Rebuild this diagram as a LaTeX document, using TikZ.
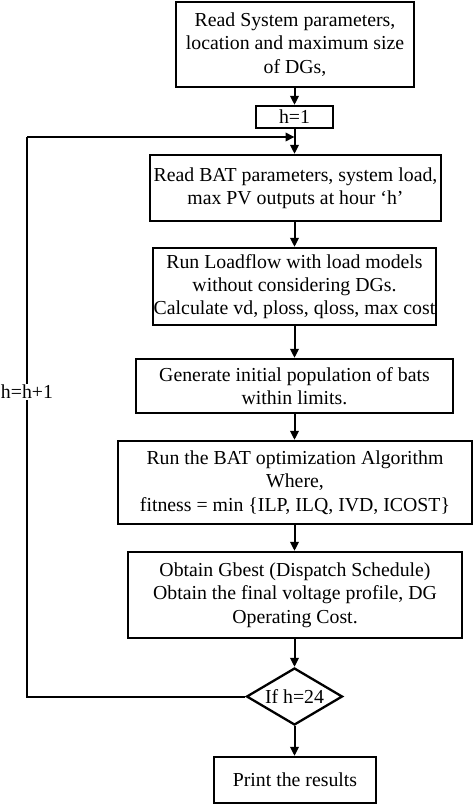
\documentclass[tikz,border=0pt]{standalone}
\usepackage{fontspec}
\setmainfont{Liberation Serif}
\usetikzlibrary{shapes.geometric,arrows.meta}
\begin{document}
\begin{tikzpicture}[x=1pt,y=-1pt,
  box/.style={draw,line width=2.3pt,inner sep=0pt,align=center,font=\fontsize{19.8}{23.3}\selectfont},
  dec/.style={draw,diamond,line width=2.3pt,inner sep=0pt,font=\fontsize{19.8}{23.3}\selectfont},
  flow/.style={line width=2pt,-{Triangle[length=9pt,width=8.5pt]}},
  loopline/.style={line width=2pt}]
\useasboundingbox (0,0) rectangle (474,806);
\node[box,minimum width=238pt,minimum height=85pt] (b1) at (295,44.5) {Read System parameters,\\location and maximum size\\of DGs,};
\node[box,minimum width=77pt,minimum height=22pt] (h1) at (294.5,117) {h=1};
\node[box,minimum width=291pt,minimum height=66pt] (b2) at (295.5,188) {Read BAT parameters, system load,\\max PV outputs at hour ‘h’};
\node[box,minimum width=283pt,minimum height=77pt] (b3) at (294.5,286.5) {Run Loadflow with load models\\without considering DGs.\\Calculate vd, ploss, qloss, max cost};
\node[box,minimum width=317pt,minimum height=54pt] (b4) at (294.5,386) {Generate initial population of bats\\within limits.};
\node[box,minimum width=354pt,minimum height=83pt] (b5) at (295,482.5) {Run the BAT optimization Algorithm\\Where,\\fitness = min \{ILP, ILQ, IVD, ICOST\}};
\node[box,minimum width=334pt,minimum height=86pt] (b6) at (295,595) {Obtain Gbest (Dispatch Schedule)\\Obtain the final voltage profile, DG\\Operating Cost.};
\node[dec,minimum width=96pt,minimum height=57pt] (d) at (294.5,696.5) {\smash{\makebox[0pt]{\raisebox{-0.33em}{If h=24}}}};
\node[box,minimum width=162pt,minimum height=46pt] (b7) at (295,780) {Print the results};
\coordinate (m) at (294.5,137);
\coordinate (lb) at (27,696.5);
\coordinate (lt) at (27,137);
\draw[flow] (b1.south -| h1.north) -- (h1.north);
\draw[loopline] (h1.south) -- (m);
\draw[flow] (m) -- (m |- b2.north);
\draw[flow] (b2.south -| m) -- (m |- b3.north);
\draw[flow] (b3.south -| m) -- (m |- b4.north);
\draw[flow] (b4.south -| m) -- (m |- b5.north);
\draw[flow] (b5.south -| m) -- (m |- b6.north);
\draw[flow] (b6.south -| m) -- (d.north);
\draw[flow] (d.south) -- (d.south |- b7.north);
\draw[loopline] (d.west) -- (lb) -- (lt);
\draw[flow] (lt) -- (m);
\node[fill=white,inner sep=1pt,font=\fontsize{19.8}{23.3}\selectfont] (lab) at (27,392) {h=h+1};
\end{tikzpicture}
\end{document}
